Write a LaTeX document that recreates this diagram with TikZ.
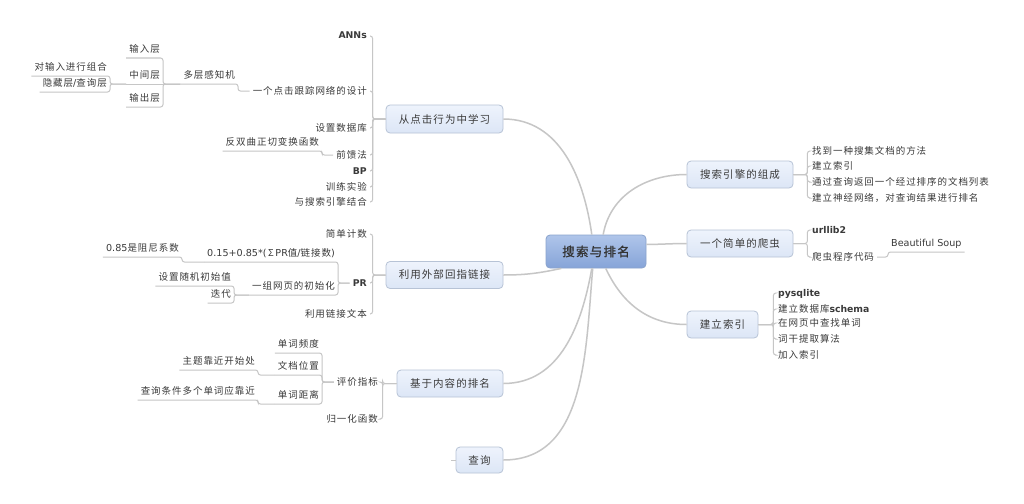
\documentclass[tikz,border=0pt]{standalone}
\usepackage{fontspec}
\setmainfont{Noto Sans CJK SC}
\newfontfamily\cjk{Noto Sans CJK SC}[LetterSpace=10]
\newfontfamily\cjkb{Noto Sans CJK SC}[LetterSpace=10,FakeBold=1.2]
\newfontfamily\latf{DejaVu Sans}
\newcommand\mylb[1]{{\latf\bfseries\fontsize{9.3}{11}\selectfont #1}}
\newcommand\mylr[1]{{\latf\fontsize{9.6}{11}\selectfont #1}}
\definecolor{tx}{HTML}{3A3A3A}
\definecolor{lc}{HTML}{C6C6C6}
\definecolor{bd}{HTML}{B7C3D6}
\definecolor{bt}{HTML}{EEF3FC}
\definecolor{bb}{HTML}{DCE6F6}
\definecolor{rt}{HTML}{AFC5EA}
\definecolor{rb}{HTML}{86A4D8}
\definecolor{rd}{HTML}{8AA3CC}
\tikzset{
  ln/.style={draw=lc, line width=1pt, rounded corners=2.5pt},
  mainln/.style={draw=lc, line width=1.5pt},
  tb/.style={font=\cjk\fontsize{9.5}{11}\selectfont, text=tx, inner xsep=3pt, inner ysep=3pt, text height=8pt, text depth=2pt},
  box/.style={draw=bd, line width=0.8pt, rounded corners=4pt, top color=bt, bottom color=bb, font=\cjk\fontsize{10.5}{12}\selectfont, text=tx, inner sep=0pt},
  rootbox/.style={draw=rd, line width=0.8pt, rounded corners=4pt, top color=rt, bottom color=rb, font=\cjkb\fontsize{12.5}{14}\selectfont, text=tx!90!black, inner sep=0pt, minimum width=100pt, minimum height=33pt}
}
\begin{document}
\begin{tikzpicture}[x=1pt,y=-1pt]
\path[fill=white] (0,0) rectangle (1024,503);
\useasboundingbox (0,0) rectangle (1024,503);

% root and main boxes
\node[rootbox] (root) at (596,251.5) {搜索与排名};
\node[box, minimum width=117pt, minimum height=28pt] (b1) at (444.5,119) {从点击行为中学习};
\node[box, minimum width=117pt, minimum height=27pt] (b2) at (444.5,275) {利用外部回指链接};
\node[box, minimum width=106pt, minimum height=27pt] (b3) at (450,383.5) {基于内容的排名};
\node[box, minimum width=47pt, minimum height=26pt] (b4) at (479.5,460) {查询};
\node[box, minimum width=106pt, minimum height=27pt] (c1) at (740,174.5) {搜索引擎的组成};
\node[box, minimum width=106pt, minimum height=27pt] (c2) at (740,243.5) {一个简单的爬虫};
\node[box, minimum width=71pt, minimum height=27pt] (c3) at (722.5,324.5) {建立索引};

\draw[mainln] (root.104) to[out=98,in=0] (b1.east);
\draw[mainln] (root.206) to[out=192,in=0] (b2.east);
\draw[mainln] (root.256) to[out=-100,in=0] (b3.east);
\draw[mainln] (root.259) to[out=-95,in=0] (b4.east);
\draw[mainln] (root.67) to[out=80,in=180] (c1.west);
\draw[mainln] (root.8) to[out=0,in=180] (c2.west);
\draw[mainln] (root.-60) to[out=-65,in=180] (c3.west);

% branch 1
\node[tb, anchor=east] (a1) at (370,36) {\mylb{ANNs}};
\node[tb, anchor=east] (a2) at (370,91) {一个点击跟踪网络的设计};
\node[tb, anchor=east] (a3) at (370,128) {设置数据库};
\node[tb, anchor=east] (a4) at (370,155) {前馈法};
\node[tb, anchor=east] (a5) at (370,171) {\mylb{BP}};
\node[tb, anchor=east] (a6) at (370,187) {训练实验};
\node[tb, anchor=east] (a7) at (370,202) {与搜索引擎结合};
\foreach \n in {a1,a2,a3,a4,a5,a6,a7} \draw[ln] (b1.west) -- ++(-13,0) |- (\n.east);

\node[tb, anchor=south east] (m1) at (238,84) {多层感知机};
\draw[ln] (a2.west) -| (m1.south east) -- (m1.south west);
\node[tb, anchor=south east] (L1) at (163,58) {输入层};
\node[tb, anchor=south east] (L2) at (163,84) {中间层};
\node[tb, anchor=south east] (L3) at (163,107) {输出层};
\draw[ln] (m1.south west) -| (L1.south east) -- (L1.south west);
\draw[ln] (m1.south west) -- (L2.south west);
\draw[ln] (m1.south west) -| (L3.south east) -- (L3.south west);
\node[tb, anchor=south east] (K1) at (110,76) {对输入进行组合};
\node[tb, anchor=south east] (K2) at (110,92) {隐藏层\mylr{/}查询层};
\draw[ln] (L2.south west) -| (K1.south east) -- (K1.south west);
\draw[ln] (L2.south west) -| (K2.south east) -- (K2.south west);
\node[tb, anchor=south east] (F1) at (322,151) {反双曲正切变换函数};
\draw[ln] (a4.west) -| (F1.south east) -- (F1.south west);

% branch 2
\node[tb, anchor=east] (p1) at (370,234) {简单计数};
\node[tb, anchor=east] (p2) at (370,283) {\mylb{PR}};
\node[tb, anchor=east] (p3) at (370,314) {利用链接文本};
\foreach \n in {p1,p2,p3} \draw[ln] (b2.west) -- ++(-13,0) |- (\n.east);
\node[tb, anchor=south east] (q1) at (338,262) {\mylr{0.15+0.85*(}\,Σ\,\mylr{PR}值\mylr{/}链接数\mylr{)}};
\node[tb, anchor=south east] (q2) at (338,295) {一组网页的初始化};
\draw[ln] (p2.west) -| (q1.south east) -- (q1.south west);
\draw[ln] (p2.west) -| (q2.south east) -- (q2.south west);
\node[tb, anchor=south east] (v1) at (182,257) {\mylr{0.85}是阻尼系数};
\draw[ln] (q1.south west) -| (v1.south east) -- (v1.south west);
\node[tb, anchor=south east] (w1) at (234,286) {设置随机初始值};
\node[tb, anchor=south east] (w2) at (234,303) {迭代};
\draw[ln] (q2.south west) -| (w1.south east) -- (w1.south west);
\draw[ln] (q2.south west) -| (w2.south east) -- (w2.south west);

% branch 3
\node[tb, anchor=east] (r1) at (381,382) {评价指标};
\node[tb, anchor=east] (r2) at (381,419) {归一化函数};
\foreach \n in {r1,r2} \draw[ln] (b3.west) -- ++(-14,0) |- (\n.east);
\node[tb, anchor=south east] (s1) at (322,353) {单词频度};
\node[tb, anchor=south east] (s2) at (322,375) {文档位置};
\node[tb, anchor=south east] (s3) at (322,404) {单词距离};
\foreach \n in {s1,s2,s3} \draw[ln] (r1.west) -| (\n.south east) -- (\n.south west);
\node[tb, anchor=south east] (u1) at (258,370) {主题靠近开始处};
\node[tb, anchor=south east] (u2) at (258,400) {查询条件多个单词应靠近};
\draw[ln] (s2.south west) -| (u1.south east) -- (u1.south west);
\draw[ln] (s3.south west) -| (u2.south east) -- (u2.south west);

% query stub
\coordinate (qs) at (451,460);
\draw[ln] (b4.west) -- (qs);

% right side
\node[tb, anchor=west] (x1) at (809,151) {找到一种搜集文档的方法};
\node[tb, anchor=west] (x2) at (809,166) {建立索引};
\node[tb, anchor=west] (x3) at (809,182) {通过查询返回一个经过排序的文档列表};
\node[tb, anchor=west] (x4) at (809,198) {建立神经网络，对查询结果进行排名};
\foreach \n in {x1,x2,x3,x4} \draw[ln] (c1.east) -- ++(14,0) |- (\n.west);

\node[tb, anchor=west] (y1) at (809,230) {\mylb{urllib2}};
\node[tb, anchor=west] (y2) at (809,257) {爬虫程序代码};
\foreach \n in {y1,y2} \draw[ln] (c2.east) -- ++(14,0) |- (\n.west);
\node[tb, anchor=south west] (z1) at (888,252) {\mylr{Beautiful Soup}};
\draw[ln] (y2.east) -| (z1.south west) -- (z1.south east);

\node[tb, anchor=west] (d1) at (775,293) {\mylb{pysqlite}};
\node[tb, anchor=west] (d2) at (775,309) {建立数据库\mylb{schema}};
\node[tb, anchor=west] (d3) at (775,323) {在网页中查找单词};
\node[tb, anchor=west] (d4) at (775,339) {词干提取算法};
\node[tb, anchor=west] (d5) at (775,355) {加入索引};
\foreach \n in {d1,d2,d3,d4,d5} \draw[ln] (c3.east) -- ++(15,0) |- (\n.west);
\end{tikzpicture}
\end{document}
